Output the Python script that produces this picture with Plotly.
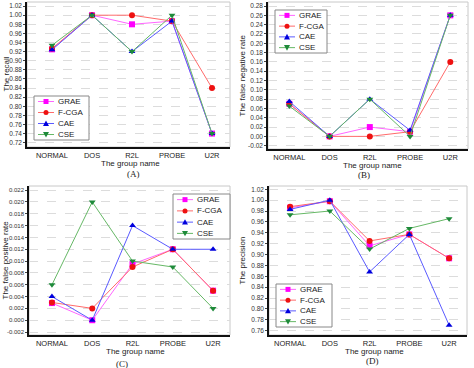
import plotly.graph_objects as go

W, H = 474, 368

categories = ["NORMAL", "DOS", "R2L", "PROBE", "U2R"]
series_names = ["GRAE", "F-CGA", "CAE", "CSE"]

# (A) recall
recall_grae = [0.925, 1.000, 0.980, 0.987, 0.740]
recall_fcga = [0.927, 1.000, 1.000, 0.987, 0.840]
recall_cae = [0.924, 1.000, 0.920, 0.987, 0.740]
recall_cse = [0.934, 1.000, 0.920, 1.000, 0.740]

# (B) false negative rate
fnr_grae = [0.070, 0.000, 0.020, 0.010, 0.260]
fnr_fcga = [0.070, 0.000, 0.000, 0.010, 0.160]
fnr_cae = [0.075, 0.000, 0.080, 0.013, 0.260]
fnr_cse = [0.065, 0.000, 0.080, 0.000, 0.260]

# (C) false positive rate
fpr_grae = [0.0029, 0.0000, 0.0095, 0.0120, 0.0050]
fpr_fcga = [0.0030, 0.0020, 0.0090, 0.0120, 0.0050]
fpr_cae = [0.0040, 0.0000, 0.0160, 0.0120, 0.0120]
fpr_cse = [0.0060, 0.0200, 0.0100, 0.0090, 0.0020]

# (D) precision
prec_grae = [0.986, 0.998, 0.916, 0.937, 0.893]
prec_fcga = [0.988, 0.998, 0.925, 0.937, 0.893]
prec_cae = [0.983, 1.000, 0.868, 0.937, 0.770]
prec_cse = [0.973, 0.980, 0.910, 0.948, 0.966]

line_colors = ["#ff66ff", "#ff6a6a", "#5a5aff", "#66b866"]
marker_colors = ["#ff00ff", "#ee1111", "#0000dd", "#1e8a3a"]
symbols = ["square", "circle", "triangle-up", "triangle-down"]

def px_x(p):
    return p / W

def px_y(p):
    return 1 - p / H

panels = [
    dict(vals=[recall_grae, recall_fcga, recall_cae, recall_cse],
         box=(27, 230, 2, 147), yr=[0.7105, 1.029], t0=0.72, t1=1.02, dt=0.02, fmt=".2f",
         xr=[-0.625, 4.45], ytitle="The recall", ytx=6, cap="(A)", capx=133, capy=174,
         xtx=130, xty=163.5, leg=(34, 89, 96, 140), tfs=6.5),
    dict(vals=[fnr_grae, fnr_fcga, fnr_cae, fnr_cse],
         box=(268, 468, 2, 149), yr=[-0.0271, 0.2886], t0=-0.02, t1=0.28, dt=0.02, fmt=".2f",
         xr=[-0.53, 4.44], ytitle="The false negative rate", ytx=242, cap="(B)", capx=364, capy=175,
         xtx=372, xty=165.5, leg=(275, 327, 10, 53), tfs=6.5),
    dict(vals=[fpr_grae, fpr_fcga, fpr_cae, fpr_cse],
         box=(29, 230, 186, 335), yr=[-0.0025, 0.0227], t0=-0.002, t1=0.022, dt=0.002, fmt=".3f",
         xr=[-0.57, 4.42], ytitle="The false positive rate", ytx=5, cap="(C)", capx=122, capy=364,
         xtx=135, xty=351, leg=(173, 230, 194, 239), tfs=6),
    dict(vals=[prec_grae, prec_fcga, prec_cae, prec_cse],
         box=(269, 467, 186, 335), yr=[0.752, 1.026], t0=0.76, t1=1.02, dt=0.02, fmt=".2f",
         xr=[-0.53, 4.45], ytitle="The precision", ytx=242, cap="(D)", capx=372, capy=361,
         xtx=374, xty=351, leg=(276, 332, 284, 327), tfs=6.5),
]

fig = go.Figure()
shapes = []
annotations = []
cat_font = dict(family="Arial, Liberation Sans, sans-serif", size=7.5, color="#222222")

for i, p in enumerate(panels):
    n = "" if i == 0 else str(i + 1)
    xa, ya = "x" + n, "y" + n
    x0, x1, y0, y1 = p["box"]
    for s in range(4):
        fig.add_trace(go.Scatter(
            x=categories, y=p["vals"][s], xaxis=xa, yaxis=ya, mode="lines+markers",
            name=series_names[s], showlegend=False,
            line=dict(color=line_colors[s], width=1),
            marker=dict(symbol=symbols[s], size=6, color=marker_colors[s]),
        ))
    nt = int(round((p["t1"] - p["t0"]) / p["dt"]))
    tickvals = [round(p["t0"] + k * p["dt"], 4) for k in range(nt + 1)]
    ticktext = [format(v, p["fmt"]) for v in tickvals]
    tick_font = dict(family="Arial, Liberation Sans, sans-serif", size=p["tfs"], color="#333333")
    fig.update_layout(**{
        "xaxis" + n: dict(domain=[px_x(x0), px_x(x1)], anchor=ya, type="category",
                           range=p["xr"], showgrid=False, showline=True, linecolor="#111111",
                           linewidth=1.5, ticks="", tickfont=cat_font, zeroline=False),
        "yaxis" + n: dict(domain=[px_y(y1), px_y(y0)], anchor=xa, range=p["yr"],
                           tickvals=tickvals, ticktext=ticktext, showgrid=True,
                           gridcolor="#dcdcdc", griddash="dash", gridwidth=1,
                           showline=True, linecolor="#111111", linewidth=1.5,
                           ticks="outside", ticklen=2, tickcolor="#444444",
                           tickfont=tick_font, zeroline=False),
    })
    # light frame
    shapes.append(dict(type="rect", xref="paper", yref="paper", x0=px_x(x0), x1=px_x(x1),
                       y0=px_y(y1), y1=px_y(y0), line=dict(color="#c8c8c8", width=1),
                       layer="below"))
    # y title
    annotations.append(dict(text=p["ytitle"], xref="paper", yref="paper", x=px_x(p["ytx"]),
                            y=px_y((y0 + y1) / 2), textangle=-90, showarrow=False,
                            font=dict(family="Arial, Liberation Sans, sans-serif", size=8, color="#222222"),
                            xanchor="center", yanchor="middle"))
    # x title
    annotations.append(dict(text="The group name", xref="paper", yref="paper", x=px_x(p["xtx"]),
                            y=px_y(p["xty"]), showarrow=False,
                            font=dict(family="Arial, Liberation Sans, sans-serif", size=8, color="#222222"),
                            xanchor="center", yanchor="middle"))
    # caption
    annotations.append(dict(text=p["cap"], xref="paper", yref="paper", x=px_x(p["capx"]),
                            y=px_y(p["capy"]), showarrow=False,
                            font=dict(family="Liberation Serif, Times New Roman, serif", size=9, color="#222222"),
                            xanchor="center", yanchor="middle"))
    # legend
    lx0, lx1, ly0, ly1 = p["leg"]
    shapes.append(dict(type="rect", xref="paper", yref="paper", x0=px_x(lx0), x1=px_x(lx1),
                       y0=px_y(ly1), y1=px_y(ly0), line=dict(color="#888888", width=1),
                       fillcolor="white", layer="above"))
    step = (ly1 - ly0) / 4.0
    for s in range(4):
        cy = ly0 + step * (s + 0.5)
        sx0, sx1 = lx0 + 4, lx0 + 20
        cx = (sx0 + sx1) / 2
        shapes.append(dict(type="line", xref="paper", yref="paper", x0=px_x(sx0), x1=px_x(sx1),
                           y0=px_y(cy), y1=px_y(cy), line=dict(color=line_colors[s], width=1),
                           layer="above"))
        r = 2.5
        mc = marker_colors[s]
        if symbols[s] == "square":
            shapes.append(dict(type="rect", xref="paper", yref="paper", x0=px_x(cx - r), x1=px_x(cx + r),
                               y0=px_y(cy + r), y1=px_y(cy - r), fillcolor=mc, line=dict(width=0), layer="above"))
        elif symbols[s] == "circle":
            shapes.append(dict(type="circle", xref="paper", yref="paper", x0=px_x(cx - r), x1=px_x(cx + r),
                               y0=px_y(cy + r), y1=px_y(cy - r), fillcolor=mc, line=dict(width=0), layer="above"))
        else:
            if symbols[s] == "triangle-up":
                pts = [(cx - 3, cy + 2.5), (cx + 3, cy + 2.5), (cx, cy - 3)]
            else:
                pts = [(cx - 3, cy - 2.5), (cx + 3, cy - 2.5), (cx, cy + 3)]
            path = "M " + " L ".join(f"{px_x(a):.5f},{px_y(b):.5f}" for a, b in pts) + " Z"
            shapes.append(dict(type="path", xref="paper", yref="paper", path=path, fillcolor=mc,
                               line=dict(width=0), layer="above"))
        annotations.append(dict(text=series_names[s], xref="paper", yref="paper", x=px_x(sx1 + 2),
                                y=px_y(cy), showarrow=False, xanchor="left", yanchor="middle",
                                font=dict(family="Arial, Liberation Sans, sans-serif", size=8, color="#222222")))

fig.update_layout(width=W, height=H, margin=dict(l=0, r=0, t=0, b=0),
                  paper_bgcolor="white", plot_bgcolor="white", showlegend=False,
                  shapes=shapes, annotations=annotations)

fig.write_html("out.html", config={"displayModeBar": False},
               post_script="document.body.style.margin='0';document.body.style.padding='0';")
